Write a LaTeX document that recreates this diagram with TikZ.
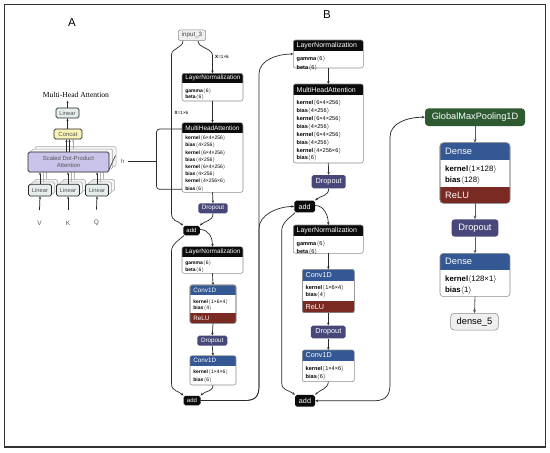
\documentclass[tikz,border=0pt]{standalone}
\usepackage{fontspec}
\setmainfont{Liberation Sans}
\newfontfamily\serifA{Liberation Serif}
\usetikzlibrary{calc,arrows.meta}
\definecolor{hdr}{HTML}{0B0B0B}
\definecolor{convblue}{HTML}{335893}
\definecolor{relured}{HTML}{7A2A22}
\definecolor{dropc}{HTML}{474779}
\definecolor{gmpgreen}{HTML}{2E5A31}
\definecolor{nframe}{HTML}{8C8C8C}
\definecolor{edgec}{HTML}{2A2A2A}
\definecolor{lightfill}{HTML}{EFEFEF}
\definecolor{linfill}{HTML}{E6EDED}
\definecolor{concfill}{HTML}{F7F2B6}
\definecolor{sdpafill}{HTML}{CBC4EA}
\definecolor{agray}{HTML}{555555}
\newcommand\FS[2]{\fontsize{#1}{#2}\selectfont}
\newcommand\Lan{\ensuremath{\langle}}
\newcommand\Ran{\ensuremath{\rangle}}
\newcommand\KB[2]{\textbf{#1}\Lan#2\Ran}
\newcommand\NetR{2.2pt}
\newcommand\NetPad{3.2}
% #1 name #2 x #3 y #4 w #5 h #6 header h #7 colour #8 font #9 title
\newcommand\NetBox[9]{%
  \node[inner sep=0, outer sep=0, minimum width=#4pt, minimum height=#5pt, anchor=north west, fill=white] (#1) at (#2,#3) {};
  \begin{scope}
    \clip[rounded corners=\NetR] (#1.north west) rectangle (#1.south east);
    \fill[#7] (#1.north west) rectangle ($(#1.north east)+(0,#6)$);
  \end{scope}
  \draw[boxline] (#1.north west) rectangle (#1.south east);
  \node[anchor=west, inner sep=0, text=white, font=#8] (#1t) at ($(#1.north west)+(\NetPad,#6/2)$) {#9};
}
% #1 name #2 footer h #3 colour #4 font #5 text
\newcommand\NetFoot[5]{%
  \begin{scope}
    \clip[rounded corners=\NetR] (#1.north west) rectangle (#1.south east);
    \fill[#3] (#1.south west) rectangle ($(#1.south east)+(0,-#2)$);
  \end{scope}
  \draw[boxline] (#1.north west) rectangle (#1.south east);
  \node[anchor=west, inner sep=0, text=white, font=#4] (#1f) at ($(#1.south west)+(\NetPad,-#2/2)$) {#5};
}
% #1 name #2 first line centre offset #3 font size #4 skip #5 lines
\newcommand\NetBody[5]{%
  \node[anchor=north west, inner sep=0, align=left, font=\FS{#3}{#4}] (#1b) at ($(#1.north west)+(\NetPad,#2-0.36*#3)$) {#5};
}
\begin{document}
\begin{tikzpicture}[x=1pt,y=-1pt,
  edge/.style={draw=edgec, line width=0.7pt, -{Stealth[length=2.8pt,width=2.4pt]}},
  edgeb/.style={draw=edgec, line width=0.75pt, {Stealth[length=3pt,width=2.6pt]}-{Stealth[length=3pt,width=2.6pt]}},
  edge3/.style={draw=black!65, line width=0.8pt, -{Stealth[length=3.4pt,width=3pt]}},
  boxline/.style={draw=nframe, line width=0.55pt, rounded corners=\NetR},
  dropn/.style={fill=dropc, text=white, rounded corners=1.8pt, inner sep=0},
  addn/.style={fill=hdr, text=white, rounded corners=1.8pt, inner sep=0},
  termn/.style={fill=lightfill, draw=nframe, line width=0.55pt, rounded corners=2.2pt, inner sep=0},
  abox/.style={draw=black!85, line width=0.75pt, rounded corners=1.6pt, inner sep=0, text=agray, font=\FS{5.8}{6.5}},
  ashadow/.style={draw=black!35, fill=black!4, line width=0.5pt, rounded corners=1.6pt},
  aline/.style={draw=black!30, line width=0.6pt},
  aarrow/.style={draw=black!85, line width=0.75pt, -{Stealth[length=2.4pt,width=2pt]}},
  xlab/.style={font=\FS{4.6}{5}, inner sep=0},
  bracket/.style={draw=edgec, line width=0.7pt, rounded corners=3pt},
]
\useasboundingbox (0,0) rectangle (550,453);
\fill[white] (0,0) rectangle (550,453);
\draw[line width=1.8pt, draw=black!80] (4.5,4.5) rectangle (545.5,447);

\node[font=\FS{11.5}{13}] (labA) at (72,22.5) {A};
\node[font=\FS{11.5}{13}] (labB) at (327,15) {B};

% ---------------- Part A ----------------
\filldraw[ashadow] (35,146.5) rectangle (116,166.5);
\filldraw[ashadow] (31.5,149) rectangle (112.5,169);
\foreach \cx in {40,68,97}{
  \filldraw[ashadow] (\cx-5.5,179.3) rectangle (\cx+17.5,191);
  \filldraw[ashadow] (\cx-8.5,181.8) rectangle (\cx+14.5,193.5);
  \draw[aline] (\cx+3,181.8) -- (\cx+3,169);
  \draw[aline] (\cx+6,179.3) -- (\cx+6,166.5);
}
\node[abox, fill=linfill, minimum width=23pt, minimum height=10pt] (lintop) at (67.5,113) {Linear};
\node[abox, fill=concfill, minimum width=28pt, minimum height=10pt, font=\FS{6}{7}] (conc) at (68,134) {Concat};
\node[abox, fill=sdpafill, minimum width=81pt, minimum height=20pt, align=center, font=\FS{5.9}{7}] (sdpa) at (68.5,162) {Scaled Dot-Product\\Attention};
\node[abox, fill=linfill, minimum width=23pt, minimum height=11.7pt] (linv) at (40,190.2) {Linear};
\node[abox, fill=linfill, minimum width=23pt, minimum height=11.7pt] (link) at (68,190.2) {Linear};
\node[abox, fill=linfill, minimum width=23pt, minimum height=11.7pt] (linq) at (97,190.2) {Linear};
\node[font=\FS{6.5}{7}, text=agray] (labv) at (39.5,223) {V};
\node[font=\FS{6.5}{7}, text=agray] (labk) at (68,223) {K};
\node[font=\FS{6.5}{7}, text=agray] (labq) at (96.5,223) {Q};
\node[font=\serifA\FS{7.6}{8}] (mhat) at (76,94.5) {Multi-Head Attention};
\node[font=\FS{6}{7}, text=agray] (hlab) at (122.5,161) {h};

\draw[aarrow] ([yshift=7pt]labv.north) -- (linv.south);
\draw[aarrow] ([yshift=7pt]labk.north) -- (link.south);
\draw[aarrow] ([yshift=7pt]labq.north) -- (linq.south);
\draw[aarrow] (linv.north) -- (linv.north |- sdpa.south);
\draw[aarrow] (link.north) -- (link.north |- sdpa.south);
\draw[aarrow] (linq.north) -- (linq.north |- sdpa.south);
\draw[aarrow] ($(conc.south |- sdpa.north)+(-1.5,0)$) -- ($(conc.south)+(-1.5,0)$);
\draw[aarrow] ($(conc.south |- sdpa.north)+(1.5,0)$) -- ($(conc.south)+(1.5,0)$);
\draw[aarrow, draw=black!35] ($(conc.south |- sdpa.north)+(5,-3)$) -- ($(conc.south)+(5,0)$);
\draw[aarrow] (lintop.south |- conc.north) -- (lintop.south);
\draw[aarrow] (lintop.north) -- (lintop.north |- mhat.south);
\draw[black!80, line width=0.6pt] (115.5,155.5) -- (109,169.5);

% ---------------- Column 1 ----------------
\coordinate (railL1) at (171.5,0);
\coordinate (railR1) at (259,0);
\coordinate (railL2) at (281.7,0);
\coordinate (railR2) at (390,0);

\node[termn, minimum width=27.4pt, minimum height=10.7pt, font=\FS{6.2}{7}, text=black!75] (inp) at (192,35.3) {input\_3};
\NetBox{ln1}{182}{73.3}{61}{27.7}{10}{hdr}{\FS{6.4}{7}}{LayerNormalization}
\NetBody{ln1}{16.7}{5}{6.8}{\textbf{gamma}\Lan6\Ran\\\textbf{beta}\Lan6\Ran}
\NetBox{mha1}{182}{122.7}{61}{69.6}{10.6}{hdr}{\FS{6.4}{7}}{MultiHeadAttention}
\NetBody{mha1}{14.9}{5}{7.2}{\KB{kernel}{6×4×256}\\\KB{bias}{4×256}\\\KB{kernel}{6×4×256}\\\KB{bias}{4×256}\\\KB{kernel}{6×4×256}\\\KB{bias}{4×256}\\\KB{kernel}{4×256×6}\\\KB{bias}{6}}
\node[dropn, minimum width=29.4pt, minimum height=10pt, font=\FS{6.3}{7}] (dr1) at (213,208.3) {Dropout};
\node[addn, minimum width=16.5pt, minimum height=9.5pt, font=\FS{6}{7}] (add1) at (191.5,230.5) {add};
\NetBox{ln2}{182}{246.7}{61}{26.6}{10.6}{hdr}{\FS{6.4}{7}}{LayerNormalization}
\NetBody{ln2}{16}{5}{6.6}{\textbf{gamma}\Lan6\Ran\\\textbf{beta}\Lan6\Ran}
\NetBox{cv1}{190}{285}{46}{38.3}{10}{convblue}{\FS{6.3}{7}}{Conv1D}
\NetBody{cv1}{16}{5}{6.7}{\KB{kernel}{1×6×4}\\\KB{bias}{4}}
\NetFoot{cv1}{10}{relured}{\FS{6.3}{7}}{ReLU}
\node[dropn, minimum width=30pt, minimum height=10pt, font=\FS{6.3}{7}] (dr2) at (212.3,340.7) {Dropout};
\NetBox{cv2}{190}{355.7}{46}{29.3}{10}{convblue}{\FS{6.3}{7}}{Conv1D}
\NetBody{cv2}{16}{5}{7.3}{\KB{kernel}{1×4×6}\\\KB{bias}{6}}
\node[addn, minimum width=17pt, minimum height=9.5pt, font=\FS{6}{7}] (add2) at (192,400.5) {add};

\node[xlab, anchor=west] (xl1) at (215,57.3) {\textbf{X}=1×6};
\node[xlab] (xl2) at (181.5,113.3) {\textbf{X}=1×6};

\draw[edge] ([xshift=6pt]inp.south) .. controls +(0,7) and +(0,-7) .. ($(ln1.north)+(0,-18)$) -- (ln1.north);
\draw[edge] ([xshift=-9pt]inp.south) .. controls +(0,7) and +(0,-7) .. ($(railL1 |- inp.south)+(0,14)$) -- ($(railL1 |- add1.north)+(0,-12)$) .. controls +(0,8) and +(-5,-5) .. (add1.north west);
\draw[edge] (ln1.south) -- (mha1.north);
\draw[edge] (mha1.south) -- (dr1.north);
\draw[edge] (dr1.south) .. controls +(0,8) and +(5,-5) .. (add1.north east);
\draw[edge] ([yshift=1pt]add1.east) .. controls +(9,0) and +(0,-9) .. (ln2.north);
\draw[edge] ([xshift=1pt]add1.south west) .. controls +(-5,5) and +(0,-8) .. ($(railL1 |- add1.south)+(0,16)$) -- ($(railL1 |- add2.north)+(0,-12)$) .. controls +(0,8) and +(-5,-5) .. (add2.north west);
\draw[edge] (ln2.south) -- (cv1.north);
\draw[edge] (cv1.south) -- (dr2.north);
\draw[edge] (dr2.south) -- (cv2.north);
\draw[edge] (cv2.south) .. controls +(0,7) and +(5,-5) .. (add2.north east);

% bracket from part A
\coordinate (brk) at ($(mha1.west)+(-25.5,0)$);
\draw[bracket] ($(mha1.north west)+(0,6.3)$) -| (brk) |- ($(mha1.south west)+(0,-3)$);
\draw[bracket] (hlab.east) -- (hlab.east -| brk);

% ---------------- Column 2 ----------------
\NetBox{ln3}{293.3}{40}{70}{28}{11}{hdr}{\FS{7}{8}}{LayerNormalization}
\NetBody{ln3}{18}{5.6}{8.5}{\textbf{gamma}\Lan6\Ran\\\textbf{beta}\Lan6\Ran}
\NetBox{mha2}{293.3}{84}{70}{79}{11}{hdr}{\FS{7}{8}}{MultiHeadAttention}
\NetBody{mha2}{18}{5.6}{7.9}{\KB{kernel}{6×4×256}\\\KB{bias}{4×256}\\\KB{kernel}{6×4×256}\\\KB{bias}{4×256}\\\KB{kernel}{6×4×256}\\\KB{bias}{4×256}\\\KB{kernel}{4×256×6}\\\KB{bias}{6}}
\node[dropn, minimum width=34pt, minimum height=13.3pt, font=\FS{7.3}{8}] (dr3) at (328.7,181.7) {Dropout};
\node[addn, minimum width=20.7pt, minimum height=11.6pt, font=\FS{7.2}{8}] (add3) at (304.7,206.5) {add};
\NetBox{ln4}{293.3}{225}{70}{28.3}{11}{hdr}{\FS{7}{8}}{LayerNormalization}
\NetBody{ln4}{18.3}{5.6}{7.4}{\textbf{gamma}\Lan6\Ran\\\textbf{beta}\Lan6\Ran}
\NetBox{cv3}{302.3}{269.3}{52}{43.4}{11.4}{convblue}{\FS{7.2}{8}}{Conv1D}
\NetBody{cv3}{18}{5.6}{7}{\KB{kernel}{1×6×4}\\\KB{bias}{4}}
\NetFoot{cv3}{12}{relured}{\FS{7.2}{8}}{ReLU}
\node[dropn, minimum width=34.7pt, minimum height=12.7pt, font=\FS{7.3}{8}] (dr4) at (328.3,332) {Dropout};
\NetBox{cv4}{302.3}{350}{52}{31.7}{11}{convblue}{\FS{7.2}{8}}{Conv1D}
\NetBody{cv4}{18.3}{5.6}{7.4}{\KB{kernel}{1×4×6}\\\KB{bias}{6}}
\node[addn, minimum width=20pt, minimum height=11.7pt, font=\FS{7.2}{8}] (add4) at (305,400.8) {add};

\draw[edge] (add2.east) -- ($(railR1 |- add2.east)+(-14,0)$) .. controls +(10,0) and +(0,10) .. ($(railR1 |- add2.east)+(0,-14)$) -- ($(railR1 |- ln3.west)+(0,20)$) .. controls +(0,-14) and +(-16,0) .. (ln3.west);
\draw[edge] (add2.east) -- ($(railR1 |- add2.east)+(-14,0)$) .. controls +(10,0) and +(0,10) .. ($(railR1 |- add2.east)+(0,-14)$) -- ($(railR1 |- add3.west)+(0,22)$) .. controls +(0,-14) and +(-16,0) .. (add3.west);
\draw[edge] (ln3.south) -- (mha2.north);
\draw[edge] (mha2.south) -- (dr3.north);
\draw[edge] (dr3.south) .. controls +(0,8) and +(5,-5) .. (add3.north east);
\draw[edge] ([yshift=1pt]add3.east) .. controls +(9,0) and +(0,-9) .. (ln4.north);
\draw[edge] ([xshift=1pt]add3.south west) .. controls +(-5,5) and +(0,-8) .. ($(railL2 |- add3.south)+(0,18)$) -- ($(railL2 |- add4.north)+(0,-12)$) .. controls +(0,8) and +(-6,-5) .. (add4.north west);
\draw[edge] (ln4.south) -- (cv3.north);
\draw[edge] (cv3.south) -- (dr4.north);
\draw[edge] (dr4.south) -- (cv4.north);
\draw[edge] (cv4.south) .. controls +(0,7) and +(5,-5) .. (add4.north east);

% ---------------- Column 3 ----------------
{\renewcommand\NetR{3.5pt}\renewcommand\NetPad{5}
\node[fill=gmpgreen, text=white, rounded corners=3.5pt, inner sep=0, minimum width=100pt, minimum height=17.7pt, font=\FS{9.2}{10}] (gmp) at (475,117.2) {GlobalMaxPooling1D};
\NetBox{dense1}{440}{142.7}{70}{60.6}{17.3}{convblue}{\FS{9.3}{10}}{Dense}
\NetBody{dense1}{25.3}{7.8}{11}{\KB{kernel}{1×128}\\\KB{bias}{128}}
\NetFoot{dense1}{16.7}{relured}{\FS{9.3}{10}}{ReLU}
\node[dropn, rounded corners=3pt, minimum width=46.7pt, minimum height=17.3pt, font=\FS{9.3}{10}] (dr5) at (475,228) {Dropout};
\NetBox{dense2}{440}{253.3}{70}{43.4}{16.7}{convblue}{\FS{9.3}{10}}{Dense}
\NetBody{dense2}{25}{7.8}{11}{\KB{kernel}{128×1}\\\KB{bias}{1}}
\node[termn, rounded corners=3.5pt, minimum width=47.7pt, minimum height=16.7pt, font=\FS{9.3}{10}] (d5) at (474.5,321.7) {dense\_5};
}
\draw[edgeb] (add4.east) -- ($(railR2 |- add4.east)+(-16,0)$) .. controls +(11,0) and +(0,11) .. ($(railR2 |- add4.east)+(0,-16)$) -- ($(railR2 |- gmp.west)+(0,20)$) .. controls +(0,-14) and +(-18,0) .. (gmp.west);
\draw[edge3] (gmp.south) -- (dense1.north);
\draw[edge3] (dense1.south) -- (dr5.north);
\draw[edge3] (dr5.south) -- (dense2.north);
\draw[edge3] (dense2.south) -- (d5.north);
\end{tikzpicture}
\end{document}
